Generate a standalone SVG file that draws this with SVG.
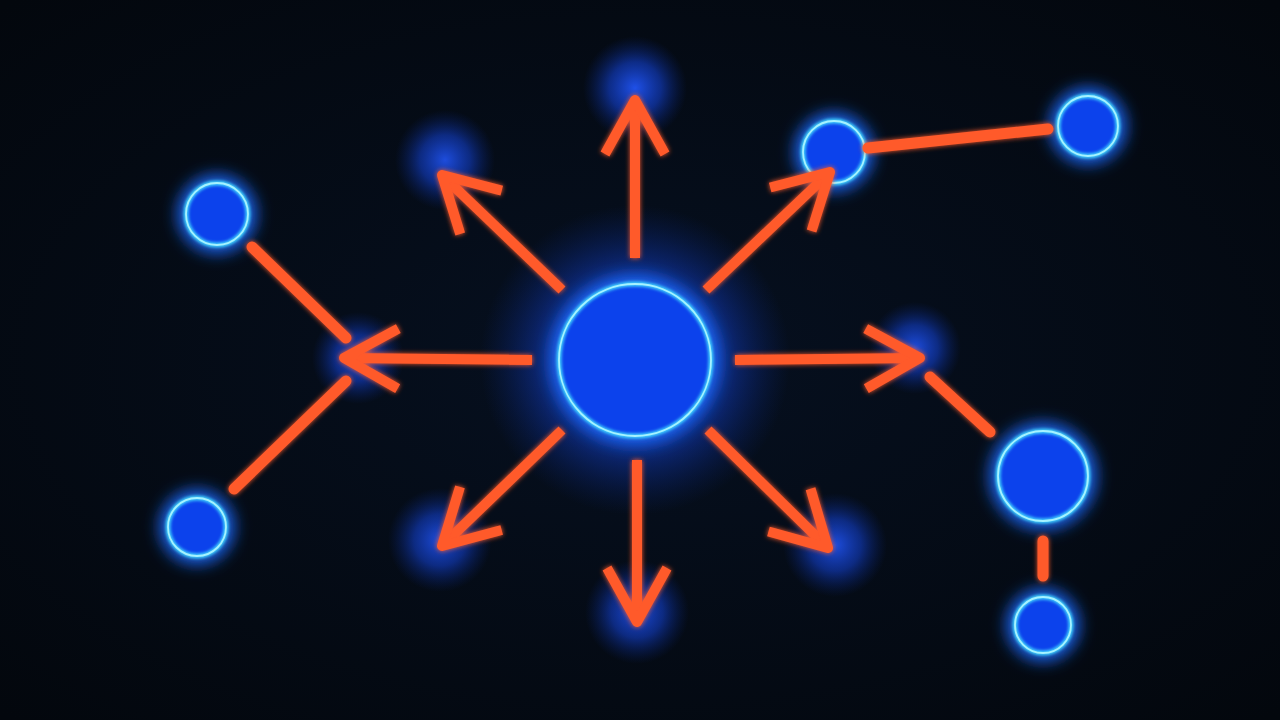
<svg xmlns="http://www.w3.org/2000/svg" width="1280" height="720" viewBox="0 0 1280 720">
  <defs>
    <radialGradient id="bg" cx="50%" cy="50%" r="70%">
      <stop offset="0" stop-color="#061020"/>
      <stop offset="1" stop-color="#03070d"/>
    </radialGradient>
    <radialGradient id="halo" cx="50%" cy="50%" r="50%">
      <stop offset="0" stop-color="#2258ff" stop-opacity="1"/>
      <stop offset="0.5" stop-color="#1548e8" stop-opacity="0.6"/>
      <stop offset="1" stop-color="#0a2a90" stop-opacity="0"/>
    </radialGradient>
    <filter id="blur8" x="-50%" y="-50%" width="200%" height="200%">
      <feGaussianBlur stdDeviation="8"/>
    </filter>
    <filter id="blur2" x="-20%" y="-20%" width="140%" height="140%">
      <feGaussianBlur stdDeviation="1.5"/>
    </filter>
    <filter id="lineGlow" x="-20%" y="-20%" width="140%" height="140%">
      <feGaussianBlur in="SourceGraphic" stdDeviation="2.5" result="b"/>
      <feMerge>
        <feMergeNode in="b"/>
        <feMergeNode in="SourceGraphic"/>
      </feMerge>
    </filter>
    <marker id="head" viewBox="-70 -40 80 80" markerWidth="80" markerHeight="80" refX="0" refY="0" orient="auto" markerUnits="userSpaceOnUse">
      <path d="M-54,-30 L0,0 L-54,30" fill="none" stroke="#ff5a2c" stroke-width="10" stroke-linejoin="round" stroke-linecap="butt"/>
    </marker>
  </defs>
  <style>
    .glow { fill: none; stroke: #1e6bff; stroke-width: 16; filter: url(#blur8); }
    .fill { fill: #0c42ec; }
    .ring { fill: none; stroke: #3fd2ff; stroke-width: 5; filter: url(#blur2); }
    .core { fill: none; stroke: #a6f2ff; stroke-width: 1.8; }
    .shaft { stroke: #ff5a2c; stroke-width: 10; fill: none; stroke-linecap: butt; marker-end: url(#head); }
    .link { stroke: #ff5a2c; stroke-width: 11; fill: none; stroke-linecap: round; }
    .spot { fill: url(#halo); }
  </style>

  <rect x="0" y="0" width="1280" height="720" fill="url(#bg)"/>

  <g id="halos">
    <circle class="spot" cx="635" cy="360" r="155"/>
    <circle class="spot" cx="635" cy="88" r="52" opacity="0.9"/>
    <circle class="spot" cx="445" cy="160" r="50" opacity="0.85"/>
    <circle class="spot" cx="440" cy="540" r="52" opacity="0.85"/>
    <circle class="spot" cx="835" cy="545" r="52" opacity="0.85"/>
    <circle class="spot" cx="637" cy="612" r="52" opacity="0.85"/>
    <circle class="spot" cx="915" cy="348" r="46" opacity="0.85"/>
    <circle class="spot" cx="358" cy="358" r="46" opacity="0.85"/>
  </g>

  <g id="hub">
    <circle class="glow" cx="635" cy="360" r="76"/>
    <circle class="fill" cx="635" cy="360" r="76"/>
    <circle class="ring" cx="635" cy="360" r="76"/>
    <circle class="core" cx="635" cy="360" r="76"/>
  </g>
  <g id="node-top-left">
    <circle class="glow" cx="217" cy="214" r="31"/>
    <circle class="fill" cx="217" cy="214" r="31"/>
    <circle class="ring" cx="217" cy="214" r="31"/>
    <circle class="core" cx="217" cy="214" r="31"/>
  </g>
  <g id="node-bottom-left">
    <circle class="glow" cx="197" cy="527" r="29"/>
    <circle class="fill" cx="197" cy="527" r="29"/>
    <circle class="ring" cx="197" cy="527" r="29"/>
    <circle class="core" cx="197" cy="527" r="29"/>
  </g>
  <g id="node-top-right-a">
    <circle class="glow" cx="834" cy="152" r="31"/>
    <circle class="fill" cx="834" cy="152" r="31"/>
    <circle class="ring" cx="834" cy="152" r="31"/>
    <circle class="core" cx="834" cy="152" r="31"/>
  </g>
  <g id="node-top-right-b">
    <circle class="glow" cx="1088" cy="126" r="30"/>
    <circle class="fill" cx="1088" cy="126" r="30"/>
    <circle class="ring" cx="1088" cy="126" r="30"/>
    <circle class="core" cx="1088" cy="126" r="30"/>
  </g>
  <g id="node-right-c">
    <circle class="glow" cx="1043" cy="476" r="45"/>
    <circle class="fill" cx="1043" cy="476" r="45"/>
    <circle class="ring" cx="1043" cy="476" r="45"/>
    <circle class="core" cx="1043" cy="476" r="45"/>
  </g>
  <g id="node-right-d">
    <circle class="glow" cx="1043" cy="625" r="28"/>
    <circle class="fill" cx="1043" cy="625" r="28"/>
    <circle class="ring" cx="1043" cy="625" r="28"/>
    <circle class="core" cx="1043" cy="625" r="28"/>
  </g>

  <g id="connectors" filter="url(#lineGlow)">
    <line class="shaft" x1="635" y1="258" x2="635" y2="100"/>
    <line class="shaft" x1="637" y1="460" x2="637" y2="622"/>
    <line class="shaft" x1="532" y1="360" x2="344" y2="358"/>
    <line class="shaft" x1="735" y1="360" x2="920" y2="358"/>
    <line class="shaft" x1="562" y1="290" x2="442" y2="175"/>
    <line class="shaft" x1="706" y1="290" x2="830" y2="172"/>
    <line class="shaft" x1="562" y1="430" x2="442" y2="546"/>
    <line class="shaft" x1="708" y1="430" x2="828" y2="548"/>
    <line class="link" x1="252" y1="247" x2="346" y2="338"/>
    <line class="link" x1="234" y1="489" x2="346" y2="381"/>
    <line class="link" x1="868" y1="148" x2="1048" y2="129"/>
    <line class="link" x1="930" y1="377" x2="990" y2="432"/>
    <line class="link" x1="1043" y1="541" x2="1043" y2="576"/>
  </g>
</svg>
